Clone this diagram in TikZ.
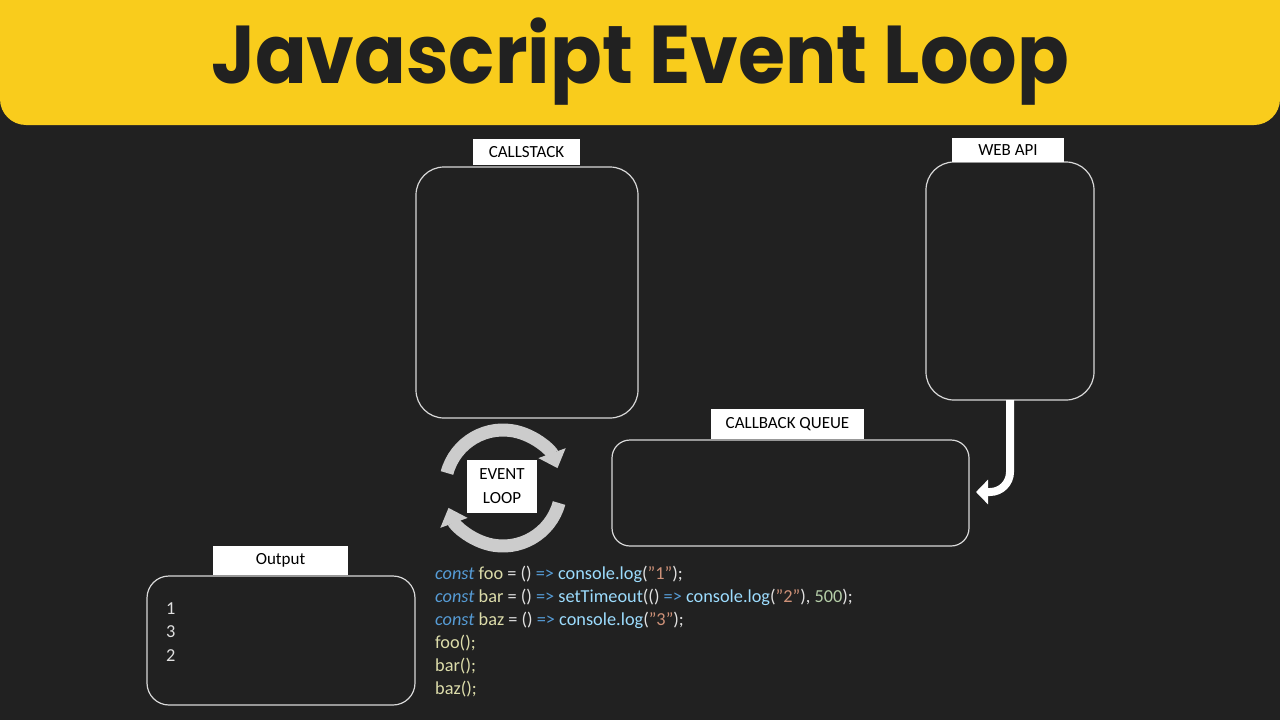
\documentclass[tikz,border=0pt]{standalone}
\usepackage{fontspec}
\setmainfont{Carlito}
\newfontfamily\titlefont{Poppins}
\usetikzlibrary{arrows.meta}
\definecolor{bg}{HTML}{212121}
\definecolor{ylw}{HTML}{F9CC1C}
\definecolor{kw}{HTML}{569CD6}
\definecolor{fn}{HTML}{DCDCAA}
\definecolor{id}{HTML}{9CDCFE}
\definecolor{str}{HTML}{CE9178}
\definecolor{num}{HTML}{B5CEA8}
\definecolor{txt}{HTML}{E0E0E0}
\newcommand{\qq}[1]{\symbol{34}#1\symbol{34}}
\begin{document}
\begin{tikzpicture}[x=1pt,y=-1pt,
  panel/.style={draw=white!85!black,line width=1.2pt,rounded corners=28pt},
  tag/.style={fill=white,text=black,inner sep=0pt,font=\fontsize{17}{20}\selectfont},
  code/.style={anchor=west,inner sep=0pt,font=\fontsize{18.3}{20}\selectfont,text=fn},
  loop/.style={line width=13pt,color=white!80!black,-{Triangle[width=28pt,length=16pt]}}]
\fill[bg] (0,0) rectangle (1280,720);
\useasboundingbox (0,0) rectangle (1280,720);
\fill[ylw,rounded corners=26pt] (0,-40) rectangle (1280,125);
\node[xscale=0.93] (title) at (640,62) {\titlefont\bfseries\fontsize{82}{90}\selectfont\color{bg}Javascript Event Loop};
% callstack
\draw[panel] (416,167) rectangle (638,418);
\node[tag,minimum width=107pt,minimum height=26pt] (cs) at (526.5,152) {CALLSTACK};
% web api
\draw[panel] (926,162) rectangle (1094,400);
\node[tag,minimum width=112pt,minimum height=24pt] (wa) at (1008,150) {WEB API};
% callback queue
\draw[panel,rounded corners=18pt] (612,440) rectangle (969,546);
\node[tag,minimum width=153pt,minimum height=30pt] (cq) at (787.5,424) {CALLBACK QUEUE};
% output
\draw[panel,rounded corners=22pt] (147,576) rectangle (415,705);
\node[tag,minimum width=135pt,minimum height=29pt] (out) at (280.5,560) {Output};
\node[code,text=txt] (o1) at (166,609) {1};
\node[code,text=txt] (o2) at (166,632) {3};
\node[code,text=txt] (o3) at (166,656) {2};
% arrow web api -> queue
\coordinate (a0) at (1010,400);
\coordinate (a1) at (976,492);
\draw[white,line width=8pt,-{Triangle[width=24pt,length=12pt]}] (a0) -- (1010,472) arc[start angle=0,end angle=90,radius=20] -- (a1);
% event loop
\coordinate (lc) at (503,488);
\draw[loop] ([shift={(195:58)}]lc) arc[start angle=195,end angle=340,radius=58];
\draw[loop] ([shift={(15:58)}]lc) arc[start angle=15,end angle=160,radius=58];
\node[tag,minimum width=70pt,minimum height=53pt,align=center,font=\fontsize{17}{24}\selectfont] (el) at (502,486) {EVENT\\LOOP};
% code
\node[code] (c1) at (435,574) {\color{kw}\itshape const\upshape\ \color{fn}foo \color{txt}= () \color{kw}=> \color{id}console.log\color{txt}(\color{str}\qq{1}\color{txt});};
\node[code] (c2) at (435,597) {\color{kw}\itshape const\upshape\ \color{fn}bar \color{txt}= () \color{kw}=> \color{id}setTimeout\color{txt}(() \color{kw}=> \color{id}console.log\color{txt}(\color{str}\qq{2}\color{txt}), \color{num}500\color{txt});};
\node[code] (c3) at (435,620) {\color{kw}\itshape const\upshape\ \color{fn}baz \color{txt}= () \color{kw}=> \color{id}console.log\color{txt}(\color{str}\qq{3}\color{txt});};
\node[code] (c4) at (435,643) {foo();};
\node[code] (c5) at (435,666) {bar();};
\node[code] (c6) at (435,689) {baz();};
\end{tikzpicture}
\end{document}
